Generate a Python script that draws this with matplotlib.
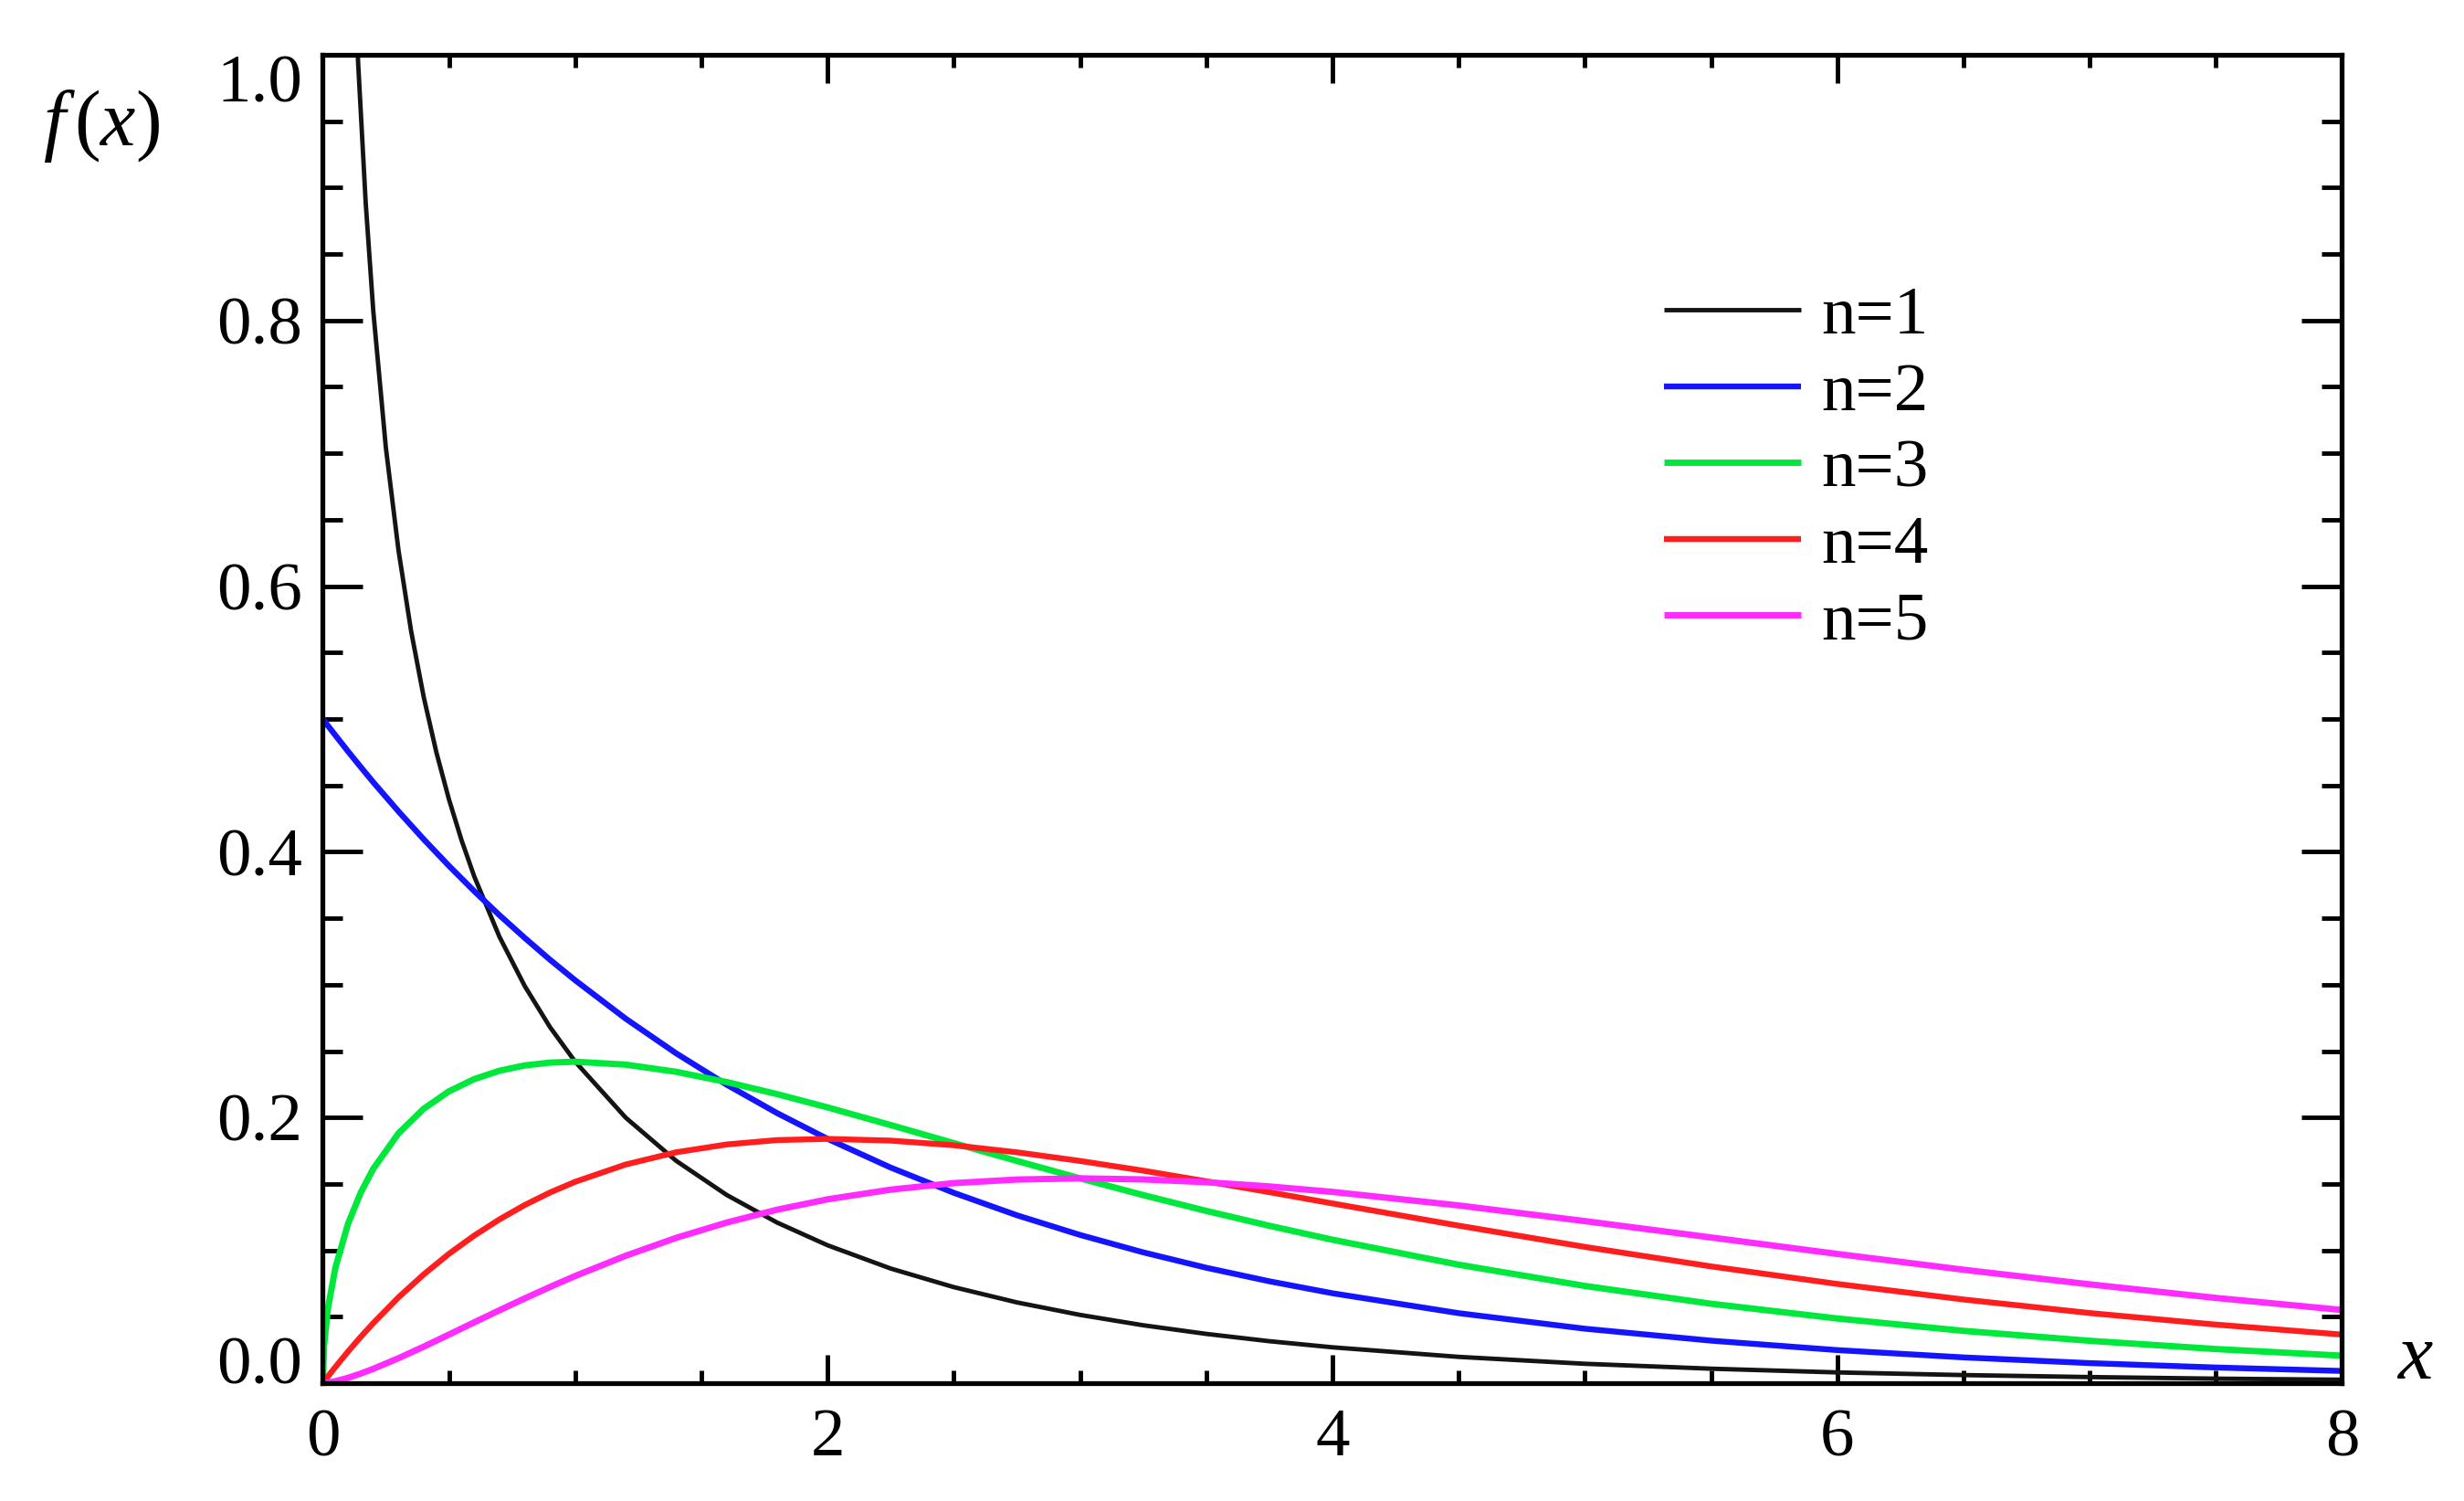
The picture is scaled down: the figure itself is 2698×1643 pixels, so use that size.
"""Chi-squared densities for n = 1..5 degrees of freedom."""

import matplotlib
matplotlib.use("Agg")
import matplotlib.pyplot as plt
from matplotlib.ticker import MultipleLocator

plt.rcParams["font.family"] = ["Liberation Serif", "DejaVu Serif"]
plt.rcParams["mathtext.fontset"] = "custom"
plt.rcParams["mathtext.rm"] = "Liberation Serif"
plt.rcParams["mathtext.it"] = "Liberation Serif:italic"

# values
x = [0, 0.005, 0.02, 0.05, 0.1, 0.15, 0.2, 0.3, 0.4, 0.5, 0.6, 0.7, 0.8, 0.9, 1.0,
     1.2, 1.4, 1.6, 1.8, 2.0, 2.25, 2.5, 2.75, 3.0, 3.25, 3.5, 3.75, 4.0, 4.5,
     5.0, 5.5, 6.0, 6.5, 7.0, 7.5, 8.0]
# n=1 runs off the top near x=0, so it gets its own denser x samples
x_n1 = [0.005, 0.02, 0.05, 0.08, 0.1, 0.12, 0.14, 0.17, 0.2, 0.25, 0.3, 0.35, 0.4,
        0.45, 0.5, 0.55, 0.6, 0.7, 0.8, 0.9, 1.0, 1.2, 1.4, 1.6, 1.8, 2.0, 2.25,
        2.5, 2.75, 3.0, 3.25, 3.5, 3.75, 4.0, 4.5, 5.0, 5.5, 6.0, 6.5, 7.0, 7.5,
        8.0]
n1 = [5.628, 2.793, 1.740, 1.355, 1.200, 1.085, 0.9941, 0.8887, 0.8072, 0.7041,
      0.6269, 0.5661, 0.5164, 0.4749, 0.4394, 0.4086, 0.3815, 0.3360, 0.2990,
      0.2681, 0.2420, 0.1999, 0.1674, 0.1417, 0.1209, 0.1038, 0.0863, 0.0723,
      0.0608, 0.0514, 0.0436, 0.0371, 0.0316, 0.0270, 0.0198, 0.0146, 0.0109,
      0.0081, 0.0061, 0.0046, 0.0034, 0.0026]
n2 = [0.5, 0.4988, 0.4950, 0.4877, 0.4756, 0.4639, 0.4524, 0.4304, 0.4094, 0.3894,
      0.3704, 0.3523, 0.3352, 0.3188, 0.3033, 0.2744, 0.2483, 0.2247, 0.2033,
      0.1839, 0.1623, 0.1433, 0.1264, 0.1116, 0.0985, 0.0869, 0.0767, 0.0677,
      0.0527, 0.0410, 0.0320, 0.0249, 0.0194, 0.0151, 0.0118, 0.0092]
n3 = [0, 0.0281, 0.0559, 0.0870, 0.1200, 0.1433, 0.1614, 0.1881, 0.2066, 0.2197,
      0.2289, 0.2352, 0.2392, 0.2413, 0.2420, 0.2398, 0.2344, 0.2267, 0.2176,
      0.2076, 0.1943, 0.1807, 0.1673, 0.1542, 0.1416, 0.1297, 0.1185, 0.1080,
      0.0892, 0.0732, 0.0598, 0.0487, 0.0394, 0.0319, 0.0257, 0.0207]
n4 = [0, 0.0012, 0.0050, 0.0122, 0.0238, 0.0348, 0.0452, 0.0646, 0.0819, 0.0974,
      0.1111, 0.1233, 0.1341, 0.1435, 0.1516, 0.1646, 0.1738, 0.1797, 0.1830,
      0.1839, 0.1826, 0.1791, 0.1738, 0.1673, 0.1600, 0.1520, 0.1438, 0.1353,
      0.1186, 0.1026, 0.0879, 0.0747, 0.0630, 0.0528, 0.0441, 0.0366]
n5 = [0, 0.0000, 0.0004, 0.0015, 0.0040, 0.0072, 0.0108, 0.0188, 0.0275, 0.0366,
      0.0458, 0.0549, 0.0638, 0.0724, 0.0807, 0.0959, 0.1094, 0.1209, 0.1306,
      0.1384, 0.1457, 0.1506, 0.1533, 0.1542, 0.1534, 0.1513, 0.1481, 0.1440,
      0.1338, 0.1220, 0.1097, 0.0973, 0.0854, 0.0744, 0.0642, 0.0551]

labels = ["n=1", "n=2", "n=3", "n=4", "n=5"]
colors = ["#141414", "#1414ff", "#00e83c", "#ff1e1e", "#ff2cff"]
widths = [3.5, 4.6, 5.0, 4.6, 5.0]
yticks = [0.0, 0.2, 0.4, 0.6, 0.8, 1.0]
ytick_labels = ["0.0", "0.2", "0.4", "0.6", "0.8", "1.0"]

fig = plt.figure(figsize=(26.98, 16.43), dpi=100)
ax = fig.add_axes([0.131, 0.0785, 0.8195, 0.885])

series = [(x_n1, n1), (x, n2), (x, n3), (x, n4), (x, n5)]
for (xs, ys), lab, c, lw in zip(series, labels, colors, widths):
    ax.plot(xs, ys, color=c, lw=lw, label=lab, solid_capstyle="butt")

ax.set_xlim(0, 8)
ax.set_ylim(0, 1.0)
ax.xaxis.set_major_locator(MultipleLocator(2))
ax.xaxis.set_minor_locator(MultipleLocator(0.5))
ax.yaxis.set_minor_locator(MultipleLocator(0.05))
ax.set_yticks(yticks)
ax.set_yticklabels(ytick_labels)

for s in ax.spines.values():
    s.set_linewidth(3.8)
ax.tick_params(which="both", direction="in", top=True, right=True, width=3.5)
ax.tick_params(which="major", labelsize=54)
# x ticks are shorter than y ticks, as in the original
ax.tick_params(axis="x", which="major", length=22, pad=20)
ax.tick_params(axis="x", which="minor", length=10)
ax.tick_params(axis="y", which="major", length=32, pad=16)
ax.tick_params(axis="y", which="minor", length=16)

ylabs = ax.get_yticklabels()
ylabs[0].set_va("baseline")
ylabs[-1].set_va("top")

fig.text(0.041, 0.916, r"$f\,(x)$", fontsize=62, ha="center", va="center")
fig.text(0.980, 0.094, r"$x$", fontsize=62, ha="center", va="center")

ax.legend(loc="upper left", bbox_to_anchor=(0.664, 0.826), frameon=False,
          fontsize=54, handlelength=2.0, handletextpad=0.3, labelspacing=0.2,
          borderpad=0, borderaxespad=0)

fig.savefig("out.png", dpi=100)
